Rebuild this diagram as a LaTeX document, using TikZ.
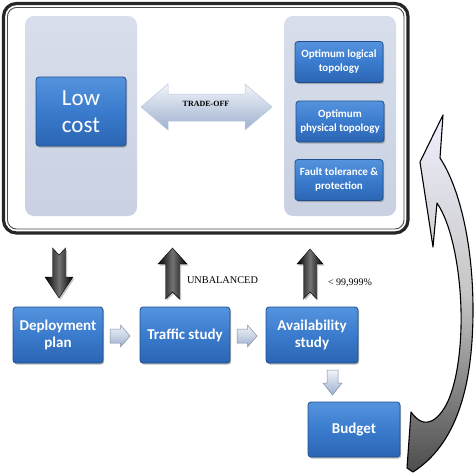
\documentclass[tikz,border=0pt]{standalone}
\usepackage{fontspec}
\setmainfont{Carlito}
\newfontfamily\tnr{Liberation Serif}
\usetikzlibrary{shadows}
\definecolor{boxtop}{HTML}{5593DD}
\definecolor{boxmid}{HTML}{3A7BCD}
\definecolor{boxbot}{HTML}{2B65B2}
\definecolor{boxline}{HTML}{1F4F8E}
\definecolor{panel}{HTML}{C9D1E2}
\definecolor{panellight}{HTML}{D8DEEB}
\definecolor{arrowlight}{HTML}{F2F5FA}
\definecolor{arrowdark}{HTML}{9DB0CE}
\begin{document}
\begin{tikzpicture}[x=1pt,y=-1pt,
  bluebox/.style={draw=boxline, line width=0.8pt, rounded corners=3pt,
    top color=boxtop, bottom color=boxbot, middle color=boxmid,
    text=white, align=center, inner sep=0pt,
    drop shadow={shadow xshift=1.2pt, shadow yshift=-1.6pt, opacity=0.55}},
  flowbox/.style={bluebox, minimum width=90pt, minimum height=56pt,
    font=\fontsize{15}{16.5}\selectfont\bfseries},
  topobox/.style={bluebox, minimum width=88pt, minimum height=41pt,
    font=\fontsize{11}{14}\selectfont\bfseries},
  panelbox/.style={rounded corners=9pt, top color=panellight, bottom color=panel,
    draw=none, minimum width=112pt, minimum height=200pt, inner sep=0pt},
  darkarrow/.style={left color=black, right color=black, middle color=black!55,
    draw=black, line width=0.4pt,
    drop shadow={shadow xshift=1.5pt, shadow yshift=-1.5pt, opacity=0.45}},
  lightarrow/.style={top color=arrowlight, bottom color=arrowdark,
    draw=arrowdark!80!black, line width=0.5pt},
  lbl/.style={inner sep=0pt, text=black}
]
\useasboundingbox (0,0) rectangle (474,474);
\fill[white] (0,0) rectangle (474,474);

% outer frame
\draw[line width=3.2pt, black!85, rounded corners=13pt] (3.5,3.5) rectangle (408,233);
\draw[line width=0.9pt, black!70, rounded corners=9pt] (7.5,7.5) rectangle (404,229);

% panels
\node[panelbox] (leftpanel) at (81,116) {};
\node[panelbox] (rightpanel) at (340,116) {};

% boxes in the frame
\node[bluebox, minimum width=90pt, minimum height=69pt,
      font=\fontsize{23}{27}\selectfont] (lowcost) at (81,111.5) {Low\\cost};
\node[topobox] (logical) at (339,62) {Optimum logical\\topology};
\node[topobox] (physical) at (340,121.5) {Optimum\\physical topology};
\node[topobox] (fault) at (339,180) {Fault tolerance \&\\protection};

% trade-off arrow
\path[lightarrow, draw=arrowdark!70] (141,107) -- (168,84) -- (168,94) -- (245,94) -- (245,84)
  -- (272,107) -- (245,130) -- (245,121) -- (168,121) -- (168,130) -- cycle;
\node[lbl, font=\tnr\fontsize{8}{9}\selectfont\bfseries] (tradeoff) at (206,104) {TRADE-OFF};

% flow boxes
\node[flowbox] (deploy) at (58,335) {Deployment\\plan};
\node[flowbox] (traffic) at (185,335) {Traffic study};
\node[flowbox, minimum width=92pt] (avail) at (312,335) {Availability\\study};
\node[flowbox, minimum width=92pt, minimum height=55pt] (budget) at (354,429.5) {Budget};

% dark block arrows
\path[darkarrow] (52.5,248) -- (59,255) -- (65.5,248) -- (65.5,277) -- (73,277) -- (59,298)
  -- (45,277) -- (52.5,277) -- cycle;
\path[darkarrow] (172.5,248) -- (187,264) -- (179.5,264) -- (179.5,299) -- (172.5,292)
  -- (165.5,299) -- (165.5,264) -- (158,264) -- cycle;
\path[darkarrow] (310,249) -- (323,264) -- (316.5,264) -- (316.5,299) -- (310,292)
  -- (303.5,299) -- (303.5,264) -- (297,264) -- cycle;
\node[lbl, font=\tnr\fontsize{10.3}{12}\selectfont] (unbal) at (222.5,280) {UNBALANCED};
\node[lbl, font=\tnr\fontsize{10}{12}\selectfont] (avlabel) at (350,283) {< 99,999\%};

% small light arrows
\path[lightarrow] (110,329) -- (120.5,329) -- (120.5,325) -- (130,336) -- (120.5,347)
  -- (120.5,343) -- (110,343) -- cycle;
\path[lightarrow] (237,329) -- (247.5,329) -- (247.5,325) -- (257,336) -- (247.5,347)
  -- (247.5,343) -- (237,343) -- cycle;
\path[lightarrow] (327,370) -- (338,370) -- (338,383) -- (342,383) -- (332.5,395)
  -- (323,383) -- (327,383) -- cycle;

% big curved arrow
\path[top color=blue!6!white, bottom color=black!70, middle color=gray!45,
      draw=black, line width=1.1pt, line join=round]
  (411,412) .. controls (418,422) and (428,428) .. (440,414)
  .. controls (456,396) and (462,350) .. (461,310)
  .. controls (460,270) and (452,225) .. (437,203)
  -- (433,247) -- (420,162) -- (443,115) -- (440,158)
  .. controls (458,185) and (473,240) .. (473,310)
  .. controls (473,390) and (455,445) .. (413,472)
  -- (407,468) -- cycle;
\end{tikzpicture}
\end{document}
